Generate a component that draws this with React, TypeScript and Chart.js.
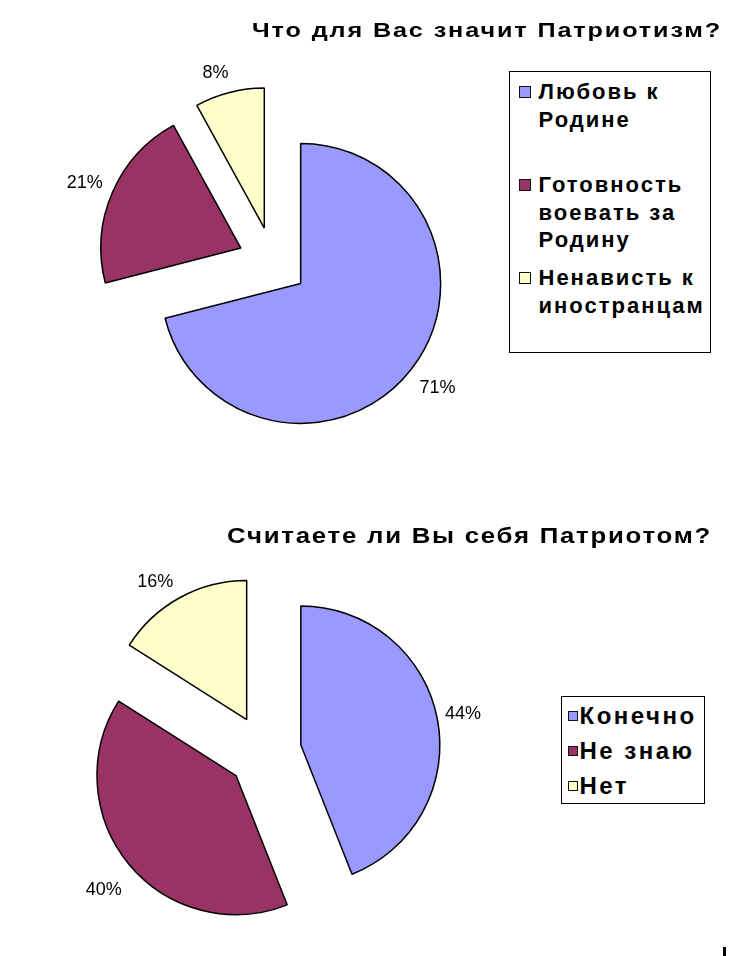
import { useEffect, useLayoutEffect, useRef } from "react";
import { Chart, registerables } from "chart.js";

Chart.register(...registerables);

// --- data ---
const titleTop = "Что для Вас значит Патриотизм?";
const topLabels = [["Любовь к", "Родине"], ["Готовность", "воевать за", "Родину"], ["Ненависть к", "иностранцам"]];
const topValues = [71, 21, 8];

const titleBottom = "Считаете ли Вы себя Патриотом?";
const bottomLabels = [["Конечно"], ["Не знаю"], ["Нет"]];
const bottomValues = [44, 40, 16];

const sliceColors = ["#9999ff", "#993366", "#ffffcc"];

const FONT = "'Liberation Sans', Arial, sans-serif";

// Excel-like exploded pie: each wedge is shifted along its mid angle,
// percentages are written just outside the shifted wedge.
const excelPie = {
  id: "excelPie",
  beforeDatasetDraw(chart: any, args: any, opts: any) {
    const { ctx } = chart;
    args.meta.data.forEach((arc: any, i: number) => {
      const { startAngle, endAngle } = arc.getProps(["startAngle", "endAngle"], true);
      const mid = (startAngle + endAngle) / 2;
      const d = opts.explode[i] || 0;
      ctx.save();
      ctx.translate(Math.cos(mid) * d, Math.sin(mid) * d);
      arc.draw(ctx);
      ctx.restore();
    });
    return false;
  },
  afterDatasetsDraw(chart: any, _args: any, opts: any) {
    const { ctx } = chart;
    const meta = chart.getDatasetMeta(0);
    const values = chart.data.datasets[0].data as number[];
    ctx.save();
    ctx.font = opts.font;
    ctx.fillStyle = "#000";
    ctx.textAlign = "center";
    ctx.textBaseline = "middle";
    meta.data.forEach((arc: any, i: number) => {
      const { x, y, startAngle, endAngle, outerRadius } = arc.getProps(
        ["x", "y", "startAngle", "endAngle", "outerRadius"],
        true
      );
      const mid = (startAngle + endAngle) / 2;
      const r = outerRadius + (opts.explode[i] || 0) + opts.gap;
      const [sx, sy] = opts.shift[i] || [0, 0];
      ctx.fillText(`${values[i]}%`, x + Math.cos(mid) * r + sx, y + Math.sin(mid) * r + sy);
    });
    ctx.restore();
  },
};

type PieProps = {
  labels: string[][];
  values: number[];
  left: number;
  top: number;
  width: number;
  height: number;
  radius: number;
  explode: number[];
  gap: number;
  shift: number[][];
};

function ExplodedPie(p: PieProps) {
  const canvasRef = useRef<HTMLCanvasElement | null>(null);

  useEffect(() => {
    if (!canvasRef.current) return;
    const chart = new Chart(canvasRef.current, {
      type: "pie",
      data: {
        labels: p.labels.map((l) => l.join(" ")),
        datasets: [
          {
            data: p.values,
            backgroundColor: sliceColors,
            borderColor: "#000",
            borderWidth: 1.5,
          },
        ],
      },
      plugins: [excelPie],
      options: {
        responsive: false,
        animation: false,
        events: [],
        radius: p.radius,
        layout: { padding: 0 },
        plugins: {
          legend: { display: false },
          tooltip: { enabled: false },
          title: { display: false },
          excelPie: {
            explode: p.explode,
            gap: p.gap,
            shift: p.shift,
            font: `18px ${FONT}`,
          },
        } as any,
      } as any,
    });
    return () => chart.destroy();
  }, []);

  return (
    <canvas
      ref={canvasRef}
      width={p.width}
      height={p.height}
      style={{ position: "absolute", left: p.left, top: p.top, width: p.width, height: p.height }}
    />
  );
}

// bold title stretched horizontally to the width it has in the original
function FitText({ text, width, style }: { text: string; width: number; style: React.CSSProperties }) {
  const ref = useRef<HTMLDivElement | null>(null);
  useLayoutEffect(() => {
    const el = ref.current;
    if (!el) return;
    el.style.transform = "none";
    const w = el.getBoundingClientRect().width;
    el.style.transform = `scaleX(${width / w})`;
  }, [text, width]);
  return (
    <div
      ref={ref}
      style={{
        position: "absolute",
        whiteSpace: "nowrap",
        fontFamily: FONT,
        fontWeight: "bold",
        letterSpacing: "1.5px",
        transformOrigin: "0 0",
        ...style,
      }}
    >
      {text}
    </div>
  );
}

type LegendProps = {
  labels: string[][];
  left: number;
  top: number;
  width: number;
  height: number;
  padTop: number;
  padLeft: number;
  rowH: number;
  lineH: number;
  fontSize: number;
  spacing: number;
  square: number;
  gap: number;
};

function Legend(p: LegendProps) {
  return (
    <div
      style={{
        position: "absolute",
        left: p.left,
        top: p.top,
        width: p.width,
        height: p.height,
        boxSizing: "border-box",
        border: "1.5px solid #000",
        background: "#fff",
        paddingTop: p.padTop,
        paddingLeft: p.padLeft,
        fontFamily: FONT,
        fontWeight: "bold",
        fontSize: p.fontSize,
        lineHeight: `${p.lineH}px`,
        letterSpacing: `${p.spacing}px`,
        color: "#000",
        overflow: "hidden",
      }}
    >
      {p.labels.map((lines, i) => (
        <div key={i} style={{ height: p.rowH, display: "flex", alignItems: "flex-start" }}>
          <div
            style={{
              width: p.square,
              height: p.square,
              boxSizing: "border-box",
              border: "1px solid #111",
              background: sliceColors[i],
              marginTop: (p.lineH - p.square) / 2,
              marginRight: p.gap,
              flex: "none",
            }}
          />
          <div>
            {lines.map((l, j) => (
              <div key={j} style={{ whiteSpace: "nowrap" }}>
                {l}
              </div>
            ))}
          </div>
        </div>
      ))}
    </div>
  );
}

export default function App() {
  return (
    <div style={{ position: "absolute", left: 0, top: 0, width: 754, height: 956, background: "#fff", overflow: "hidden" }}>
      <ExplodedPie
        labels={topLabels}
        values={topValues}
        left={0}
        top={0}
        width={546}
        height={524}
        radius={140}
        explode={[35, 35, 35]}
        gap={28}
        shift={[[4, 2], [-2, 2], [-7, 8]]}
      />
      <ExplodedPie
        labels={bottomLabels}
        values={bottomValues}
        left={0}
        top={542}
        width={529}
        height={420}
        radius={139}
        explode={[37, 37, 37]}
        gap={26}
        shift={[[0, 0], [-5, 9], [-12, 7]]}
      />
      <FitText text={titleTop} width={470} style={{ left: 252, top: 20, fontSize: 20, lineHeight: "20px" }} />
      <FitText text={titleBottom} width={485} style={{ left: 227, top: 525, fontSize: 22, lineHeight: "22px" }} />
      <Legend
        labels={topLabels}
        left={509}
        top={71}
        width={202}
        height={282}
        padTop={6}
        padLeft={8.5}
        rowH={93}
        lineH={27.5}
        fontSize={22}
        spacing={2}
        square={12}
        gap={8}
      />
      <Legend
        labels={bottomLabels}
        left={561}
        top={696}
        width={144}
        height={108}
        padTop={1}
        padLeft={5.5}
        rowH={35}
        lineH={35}
        fontSize={24}
        spacing={2.5}
        square={10}
        gap={2}
      />
      <div style={{ position: "absolute", left: 723, top: 947, width: 3, height: 9, background: "#000" }} />
    </div>
  );
}
